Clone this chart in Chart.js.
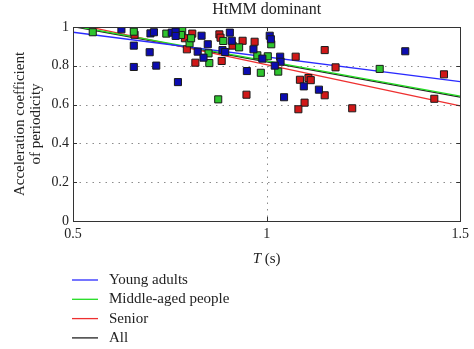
<!DOCTYPE html>
<html>
<head>
<title>HtMM dominant</title>
<script src="https://cdn.jsdelivr.net/npm/chart.js"></script>
<style>
  body { margin: 0; background: #fff; }
</style>
</head>
<body>
<canvas id="chart" width="474" height="349"></canvas>
<script>
// values
const youngT   = [0.625, 0.657, 0.657, 0.698, 0.700, 0.709, 0.715, 0.755, 0.765, 0.765, 0.771, 0.832, 0.822, 0.848, 0.837, 0.905, 0.886, 0.893, 0.910, 0.966, 0.949, 0.989, 1.008, 1.011, 1.035, 1.036, 1.021, 1.045, 1.096, 1.135, 1.358];
const youngAcc = [0.988, 0.904, 0.794, 0.870, 0.967, 0.973, 0.801, 0.971, 0.976, 0.954, 0.716, 0.955, 0.873, 0.911, 0.842, 0.971, 0.881, 0.871, 0.929, 0.885, 0.773, 0.837, 0.955, 0.937, 0.847, 0.821, 0.801, 0.638, 0.694, 0.677, 0.875];

const middleT   = [0.551, 0.657, 0.741, 0.782, 0.779, 0.801, 0.805, 0.850, 0.852, 0.875, 0.888, 0.929, 0.976, 0.985, 1.003, 1.012, 1.030, 1.292];
const middleAcc = [0.973, 0.976, 0.966, 0.981, 0.959, 0.916, 0.942, 0.864, 0.814, 0.627, 0.928, 0.895, 0.854, 0.764, 0.849, 0.911, 0.770, 0.784];

const seniorT   = [0.659, 0.789, 0.808, 0.794, 0.816, 0.878, 0.881, 0.884, 0.912, 0.938, 0.969, 0.948, 1.075, 1.150, 1.178, 1.458, 1.086, 1.108, 1.114, 1.150, 1.098, 1.082, 1.221, 1.433];
const seniorAcc = [0.960, 0.942, 0.966, 0.885, 0.816, 0.962, 0.945, 0.825, 0.904, 0.929, 0.924, 0.651, 0.847, 0.881, 0.792, 0.756, 0.728, 0.737, 0.726, 0.648, 0.610, 0.576, 0.581, 0.630];

// regression lines, evaluated at the ends of the T axis
const fitT      = [0.5, 1.5];
const fitYoung  = [0.973, 0.718];
const fitMiddle = [1.006, 0.644];
const fitSenior = [1.018, 0.593];
const fitAll    = [1.002, 0.638];

const xTicks = [0.5, 1, 1.5];
const yTicks = [0, 0.2, 0.4, 0.6, 0.8, 1];

const pts = (xs, ys) => xs.map((v, i) => ({ x: v, y: ys[i] }));
const fmt = v => String(+v.toFixed(2));

function scatterSet(label, xs, ys, fill) {
  return {
    type: 'scatter', label: label, data: pts(xs, ys), order: 0,
    pointStyle: 'rect', pointRadius: 5, pointHoverRadius: 5,
    backgroundColor: fill, borderColor: '#1a1a1a', borderWidth: 1
  };
}
function fitSet(label, ys, color) {
  return {
    type: 'line', label: label, data: pts(fitT, ys), order: 1,
    borderColor: color, borderWidth: 1.3, pointRadius: 0, fill: false
  };
}

const SERIF = "'Liberation Serif', 'DejaVu Serif', serif";
Chart.defaults.font.family = SERIF;
Chart.defaults.font.size = 14;
Chart.defaults.color = '#222';

// MATLAB-like frame, dotted grid, titles and the stacked legend
const decor = {
  id: 'decor',
  beforeDatasetsDraw(chart) {
    const { ctx, chartArea: a, scales: { x, y } } = chart;
    ctx.save();
    ctx.strokeStyle = '#8c8c8c';
    ctx.lineWidth = 1;
    ctx.setLineDash([1.5, 5]);
    yTicks.slice(1, -1).forEach(v => {
      const py = Math.round(y.getPixelForValue(v)) + 0.5;
      ctx.beginPath(); ctx.moveTo(a.left, py); ctx.lineTo(a.right, py); ctx.stroke();
    });
    xTicks.slice(1, -1).forEach(v => {
      const px = Math.round(x.getPixelForValue(v)) + 0.5;
      ctx.beginPath(); ctx.moveTo(px, a.top); ctx.lineTo(px, a.bottom); ctx.stroke();
    });
    ctx.restore();
  },
  afterDraw(chart) {
    const { ctx, chartArea: a, scales: { x, y } } = chart;
    ctx.save();
    // frame + inward ticks
    ctx.strokeStyle = '#333';
    ctx.lineWidth = 1;
    ctx.strokeRect(Math.round(a.left) + 0.5, Math.round(a.top) + 0.5,
                   Math.round(a.right - a.left), Math.round(a.bottom - a.top));
    yTicks.forEach(v => {
      const py = Math.round(y.getPixelForValue(v)) + 0.5;
      ctx.beginPath();
      ctx.moveTo(a.left, py); ctx.lineTo(a.left + 4, py);
      ctx.moveTo(a.right, py); ctx.lineTo(a.right - 4, py);
      ctx.stroke();
    });
    xTicks.forEach(v => {
      const px = Math.round(x.getPixelForValue(v)) + 0.5;
      ctx.beginPath();
      ctx.moveTo(px, a.bottom); ctx.lineTo(px, a.bottom - 4);
      ctx.moveTo(px, a.top); ctx.lineTo(px, a.top + 4);
      ctx.stroke();
    });

    ctx.fillStyle = '#222';
    ctx.textBaseline = 'middle';

    // title
    ctx.font = '16px ' + SERIF;
    ctx.textAlign = 'center';
    ctx.fillText('HtMM dominant', (a.left + a.right) / 2, 10);

    // y title, two lines
    ctx.font = '15px ' + SERIF;
    ctx.save();
    ctx.translate(0, (a.top + a.bottom) / 2);
    ctx.rotate(-Math.PI / 2);
    ctx.fillText('Acceleration coefficient', 0, 20);
    ctx.fillText('of periodicity', 0, 36);
    ctx.restore();

    // x title with italic T
    const cx = (a.left + a.right) / 2, ty = 259;
    ctx.font = 'italic 15px ' + SERIF;
    const wT = ctx.measureText('T').width;
    ctx.font = '15px ' + SERIF;
    const wS = ctx.measureText(' (s)').width;
    let sx = cx - (wT + wS) / 2;
    ctx.textAlign = 'left';
    ctx.font = 'italic 15px ' + SERIF;
    ctx.fillText('T', sx, ty);
    ctx.font = '15px ' + SERIF;
    ctx.fillText(' (s)', sx + wT, ty);

    // legend
    const lines = chart.data.datasets.filter(d => d.type === 'line');
    ctx.font = '15px ' + SERIF;
    lines.forEach((d, i) => {
      const ly = 280 + i * 19.3;
      ctx.strokeStyle = d.borderColor;
      ctx.lineWidth = 1.3;
      ctx.beginPath(); ctx.moveTo(72, ly); ctx.lineTo(98, ly); ctx.stroke();
      ctx.fillStyle = '#222';
      ctx.fillText(d.label, 109, ly);
    });
    ctx.restore();
  }
};

new Chart(document.getElementById('chart'), {
  data: {
    datasets: [
      fitSet('Young adults', fitYoung, '#2a2aff'),
      fitSet('Middle-aged people', fitMiddle, '#22dd22'),
      fitSet('Senior', fitSenior, '#ee3030'),
      fitSet('All', fitAll, '#222222'),
      scatterSet('Young adults (data)', youngT, youngAcc, '#0c0cb0'),
      scatterSet('Middle-aged people (data)', middleT, middleAcc, '#2ec42e'),
      scatterSet('Senior (data)', seniorT, seniorAcc, '#d01818')
    ]
  },
  options: {
    responsive: false,
    animation: false,
    layout: { padding: { top: 27, right: 12, left: 0, bottom: 0 } },
    plugins: { legend: { display: false }, title: { display: false }, tooltip: { enabled: false } },
    scales: {
      x: {
        type: 'linear', min: 0.5, max: 1.5,
        afterBuildTicks: s => { s.ticks = xTicks.map(v => ({ value: v })); },
        afterFit: s => { s.height = 128; },
        grid: { display: false, drawTicks: false },
        border: { display: false },
        ticks: { padding: 5, font: { size: 14 }, callback: fmt }
      },
      y: {
        type: 'linear', min: 0, max: 1,
        afterBuildTicks: s => { s.ticks = yTicks.map(v => ({ value: v })); },
        afterFit: s => { s.width = 73; },
        grid: { display: false, drawTicks: false },
        border: { display: false },
        ticks: { padding: 4, font: { size: 14 }, callback: fmt }
      }
    }
  },
  plugins: [decor]
});
</script>
</body>
</html>
